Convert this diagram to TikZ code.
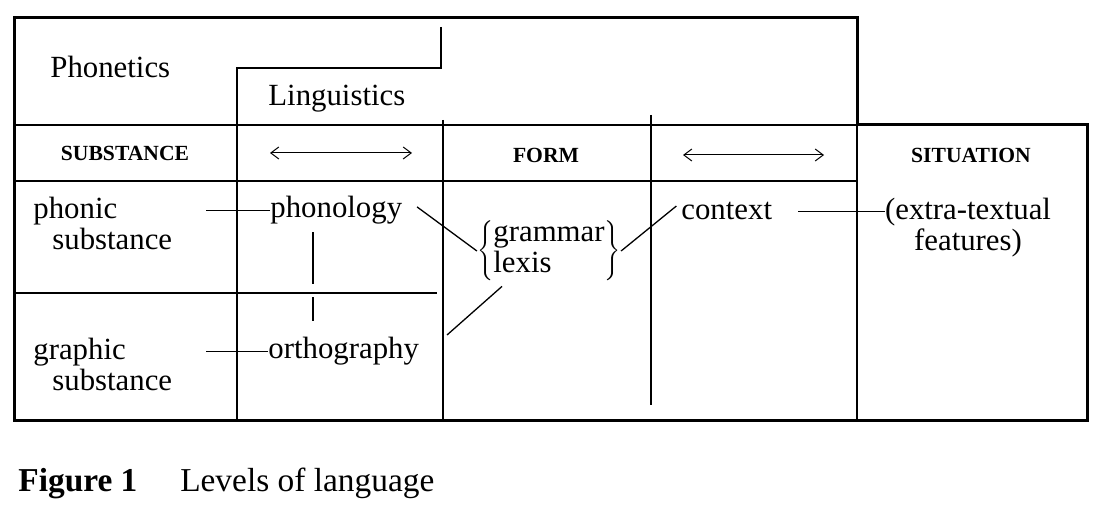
\documentclass[tikz,border=0pt]{standalone}
\usepackage{fontspec}
\setmainfont{Liberation Serif}
\usetikzlibrary{positioning,arrows.meta}

\begin{document}
\begin{tikzpicture}[x=0.5pt, y=-0.5pt, outer/.style={line width=1.5pt}, gridline/.style={line width=0.65pt}, tie/.style={line width=0.65pt}, word/.style={inner sep=0pt, font=\fontsize{15.4}{15.5}\selectfont}, colhead/.style={inner sep=0pt, anchor=base, font=\bfseries\fontsize{10.8}{12}\selectfont}, figcap/.style={inner sep=0pt, anchor=base west, font=\fontsize{16.7}{19}\selectfont}, dualarrow/.style={{Straight Barb[length=4pt,width=6pt]}-{Straight Barb[length=4pt,width=6pt]}, line width=0.5pt}]
         \useasboundingbox (0,0) rectangle (1102,506);
         \draw[outer] (857,125) -- (857,18) -- (14,18) -- (14,421) -- (1087,421) -- (1087,125) -- cycle;
         \draw[gridline] (441,27) -- (441,68) -- (237,68) -- (237,421);
         \draw[gridline] (14,125) -- (857,125) (14,181) -- (857,181) (14,293) -- (437,293);
         \draw[gridline] (443,120) -- (443,421) (651,115) -- (651,405) (857,125) -- (857,421);
         \node[word,anchor=base west] (phonetics) at (50,78) {Phonetics};
         \node[word,anchor=base west] (linguistics) at (268,106) {Linguistics};
         \node[colhead] (substance) at (125,161) {SUBSTANCE};
         \node[colhead] (form) at (546,163) {FORM};
         \node[colhead] (situation) at (971,163) {SITUATION};
         \draw[dualarrow] (270,153) -- (412,153);
         \draw[dualarrow] (683,155) -- (824,155);
         \node[word,anchor=north west,align=left] (phonicsub) at (33,197) {phonic\\\hspace*{9.5pt}substance};
         \node[word,anchor=north west,align=left] (graphicsub) at (33,338) {graphic\\\hspace*{9.5pt}substance};
         \node[word,anchor=base west] (phonology) at (270,218) {phonology};
         \node[word,anchor=base west] (orthography) at (268,359) {orthography};
         \node[word] (gl) at (549,251) {$\left\{\begin{tabular}{@{}l@{}}grammar\\lexis\end{tabular}\right\}$};
         \node[word,anchor=base west] (context) at (681,220) {context};
         \node[word,anchor=north,align=center] (extra) at (968,198) {(extra-textual\\features)};
         \coordinate (formedge) at (447,335);
         \draw[tie] (phonology.west) -- ++(-64,0);
         \draw[tie] (orthography.west) -- ++(-62,0);
         \draw[tie] (phonology.south west) ++(43,7) -- ++(0,52) ++(0,13) -- ++(0,24);
         \draw[tie,shorten <=9pt] (phonology.north east) -- (gl.west);
         \draw[tie,shorten >=3pt] (gl.east) -- (context.north west);
         \draw[tie] (gl.south) ++(-47,4) -- (formedge);
         \draw[tie] (context.east) ++(26,0) -- (context.east -| extra.west);
         \node[figcap,font=\bfseries\fontsize{16.7}{19}\selectfont] (figno) at (18,492) {Figure 1};
         \node[figcap] (figtitle) at ([xshift=21pt]figno.base east) {Levels of language};
 \end{tikzpicture}
\end{document}
